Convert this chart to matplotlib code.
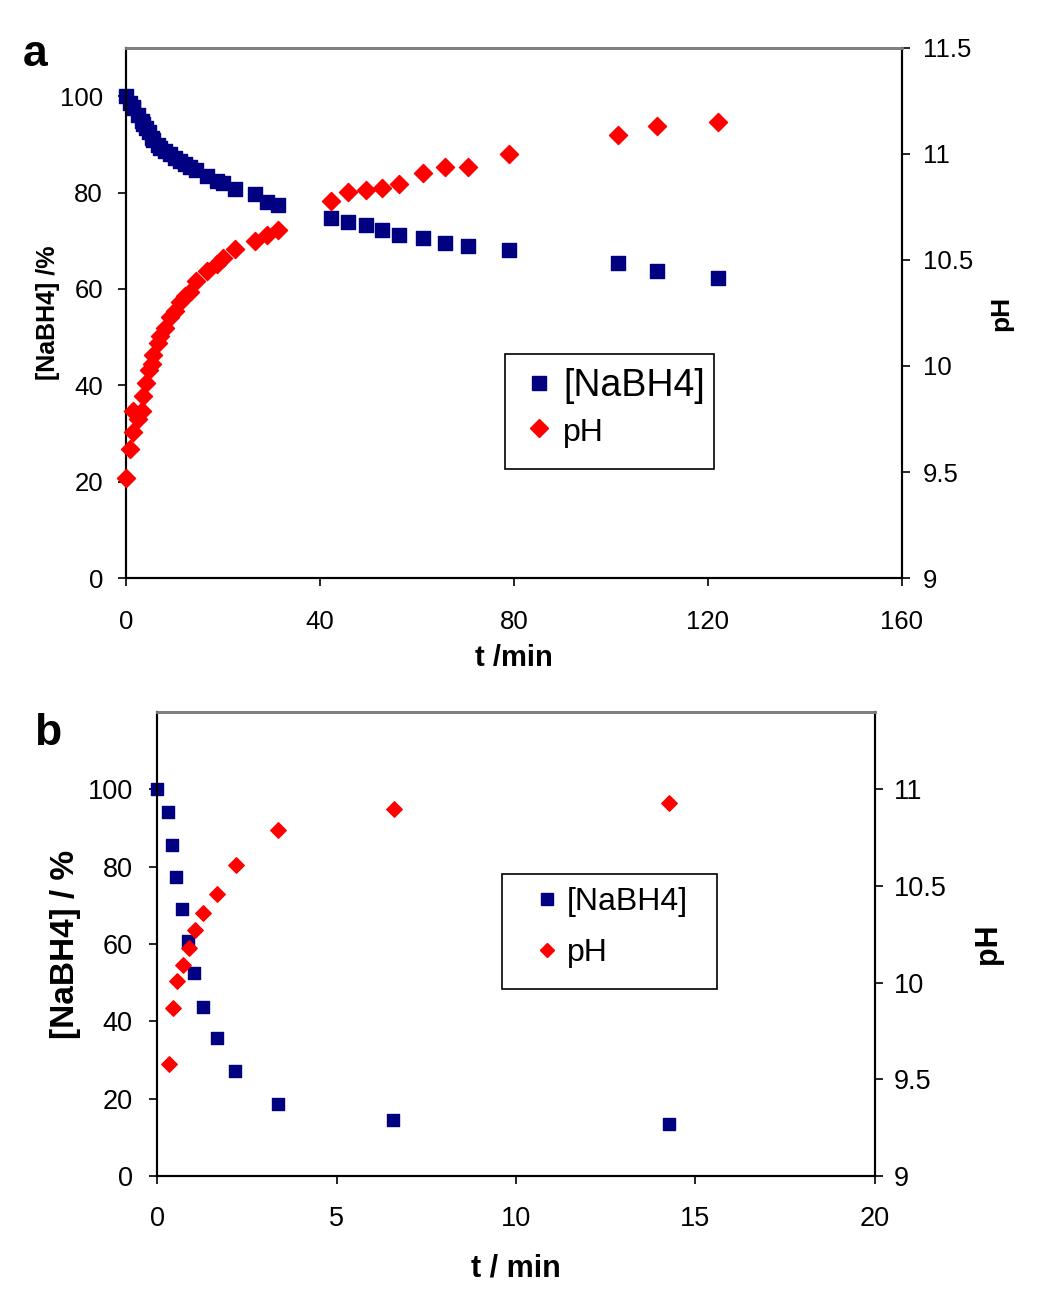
import numpy as np
import matplotlib.pyplot as plt
from matplotlib.lines import Line2D
from matplotlib.patches import Rectangle

plt.rcParams['font.family'] = ['Liberation Sans', 'DejaVu Sans']

# Panel a data
t_a = [0, 0.8, 1.4, 1.5, 2.5, 3.3, 3.5, 4.1, 4.7, 5.4, 5.6, 6.6, 7.0, 8.0, 9.1,
       10.1, 11.1, 12.2, 13.2, 14.4, 16.7, 18.8, 20.0, 22.5, 26.6, 29.0, 31.3,
       42.3, 45.8, 49.5, 52.8, 56.3, 61.2, 65.8, 70.5, 79.0, 101.4, 109.5, 122.0]
nabh4_a = [100, 98.5, 97.8, 97.5, 96.0, 94.8, 94.3, 93.4, 92.5, 91.4, 91.0, 89.8, 89.3, 88.7, 88.0,
           87.2, 86.6, 86.0, 85.3, 84.7, 83.4, 82.3, 81.9, 80.8, 79.7, 78.1, 77.5,
           74.8, 73.8, 73.2, 72.3, 71.2, 70.6, 69.6, 68.9, 68.0, 65.4, 63.7, 62.2]
ph_a = [9.47, 9.61, 9.69, 9.79, 9.75, 9.79, 9.86, 9.92, 9.98, 10.01, 10.05, 10.11, 10.14, 10.18, 10.23,
        10.26, 10.30, 10.33, 10.35, 10.40, 10.45, 10.48, 10.51, 10.55, 10.59, 10.62, 10.64,
        10.78, 10.82, 10.83, 10.84, 10.86, 10.91, 10.94, 10.94, 11.00, 11.09, 11.13, 11.15]

# Panel b data
t_b_nabh4 = [0, 0.30, 0.41, 0.52, 0.69, 0.86, 1.04, 1.27, 1.66, 2.16, 3.36, 6.57, 14.26]
nabh4_b = [100, 94.1, 85.7, 77.4, 69.0, 60.7, 52.4, 43.8, 35.6, 27.1, 18.7, 14.4, 13.4]
t_b_ph = [0.33, 0.44, 0.55, 0.72, 0.89, 1.06, 1.29, 1.68, 2.19, 3.38, 6.60, 14.26]
ph_b = [9.58, 9.87, 10.01, 10.09, 10.18, 10.27, 10.36, 10.46, 10.61, 10.79, 10.90, 10.93]

navy = '#000080'
red = '#ff0000'

fig = plt.figure(figsize=(10.42, 12.96), dpi=100)


def style_axes(ax, ax2, tick_size, xpad, ylpad, yrpad):
    for a in (ax, ax2):
        a.spines['top'].set_color('#808080')
        a.spines['top'].set_linewidth(2)
        for s in ('left', 'right', 'bottom'):
            a.spines[s].set_linewidth(1.5)
        a.tick_params(direction='out', length=5.5, width=1.2, labelsize=tick_size)
    ax.tick_params(axis='x', pad=xpad)
    ax.tick_params(axis='y', pad=ylpad)
    ax2.tick_params(axis='y', pad=yrpad)


def boxed_legend(ax, box, anchor, fs, hl, hp, ls, bp, msizes):
    # frame drawn separately so the box size can follow the reference
    ax.add_patch(Rectangle((box[0], box[1]), box[2] - box[0], box[3] - box[1],
                           transform=ax.transAxes, fill=False, edgecolor='black',
                           linewidth=1.2, zorder=5, clip_on=False))
    h1 = Line2D([], [], marker='s', linestyle='none', color=navy, markersize=msizes[0])
    h2 = Line2D([], [], marker='D', linestyle='none', color=red, markersize=msizes[1])
    leg = ax.legend([h1, h2], ['[NaBH4]', 'pH'], loc='upper left', bbox_to_anchor=anchor,
                    frameon=False, borderaxespad=0, borderpad=bp, handlelength=hl,
                    handletextpad=hp, labelspacing=ls, fontsize=fs, numpoints=1)
    return leg


# ---- Panel a ----
ax = fig.add_axes([0.1209, 0.554, 0.7447, 0.409])
ax2 = ax.twinx()
ax.scatter(t_a, nabh4_a, marker='s', s=110, color=navy, zorder=3, clip_on=False)
ax2.scatter(t_a, ph_a, marker='D', s=85, color=red, zorder=3, clip_on=False)
ax.set_xlim(0, 160)
ax.set_ylim(0, 110)
ax2.set_ylim(9, 11.5)
ax.set_xticks([0, 40, 80, 120, 160])
ax.set_yticks([0, 20, 40, 60, 80, 100])
ax2.set_yticks([9, 9.5, 10, 10.5, 11, 11.5])
ax2.set_yticklabels(['9', '9.5', '10', '10.5', '11', '11.5'])
style_axes(ax, ax2, 18.5, 17.5, 11, 9.5)
ax.set_xlabel('t /min', fontsize=21, fontweight='bold', labelpad=7)
ax.set_ylabel('[NaBH4] /%', fontsize=18, fontweight='bold', labelpad=0)
ax2.set_ylabel('pH', fontsize=19, fontweight='bold', labelpad=12)
leg = boxed_legend(ax2, (0.4884, 0.2057, 0.7577, 0.4226), (0.4884, 0.418),
                   27, 1.21, 0.04, 0.3, 0.3, (10, 9))
leg.get_texts()[1].set_fontsize(23)
fig.text(0.022, 0.958, 'a', fontsize=32, fontweight='bold', va='center')

# ---- Panel b ----
bx = fig.add_axes([0.1507, 0.0926, 0.689, 0.358])
bx2 = bx.twinx()
bx.scatter(t_b_nabh4, nabh4_b, marker='s', s=78, color=navy, zorder=3, clip_on=False)
bx2.scatter(t_b_ph, ph_b, marker='D', s=62, color=red, zorder=3, clip_on=False)
bx.set_xlim(0, 20)
bx.set_ylim(0, 120)
bx2.set_ylim(9, 11.4)
bx.set_xticks([0, 5, 10, 15, 20])
bx.set_yticks([0, 20, 40, 60, 80, 100])
bx2.set_yticks([9, 9.5, 10, 10.5, 11])
bx2.set_yticklabels(['9', '9.5', '10', '10.5', '11'])
style_axes(bx, bx2, 19.5, 16, 12, 8)
bx.set_xlabel('t / min', fontsize=22, fontweight='bold', labelpad=15.5)
bx.set_ylabel('[NaBH4] / %', fontsize=24, fontweight='bold', labelpad=5)
bx2.set_ylabel('pH', fontsize=22, fontweight='bold', labelpad=19)
boxed_legend(bx2, (0.4805, 0.403, 0.780, 0.651), (0.4805, 0.685),
             23, 1.0, 0.125, 0.65, 0.9, (8, 7.5))
fig.text(0.033, 0.434, 'b', fontsize=32, fontweight='bold', va='center')

fig.savefig('out.png', dpi=100)
